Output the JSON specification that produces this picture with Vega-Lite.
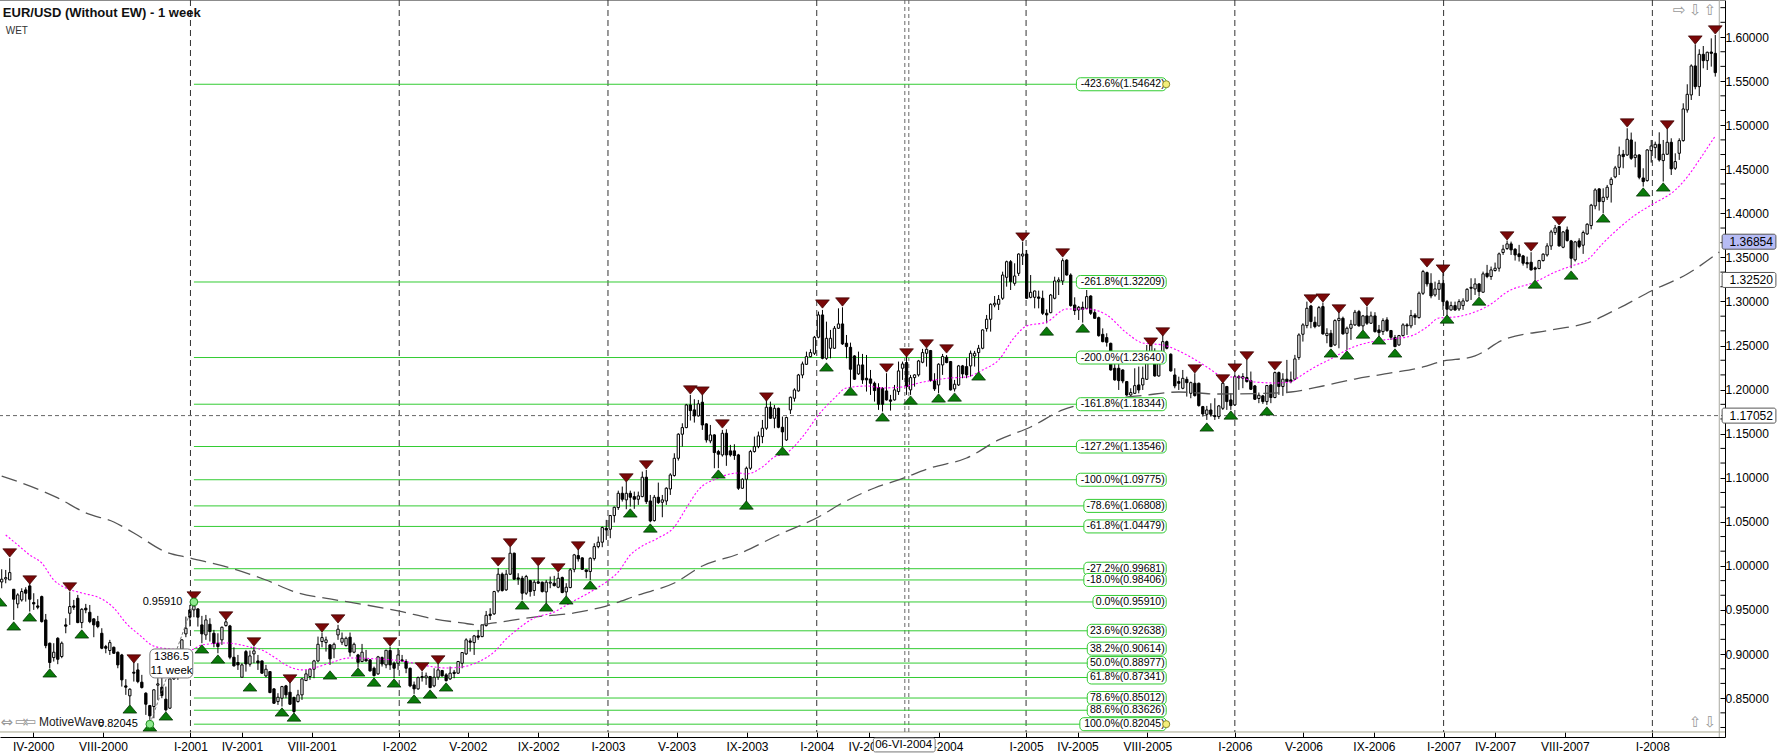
{"$schema":"https://vega.github.io/schema/vega-lite/v6.json","width":1725,"height":737,"autosize":{"type":"none"},"padding":{"left":0,"top":0,"right":52,"bottom":17},"background":"white","config":{"view":{"stroke":null},"font":"Liberation Sans","axis":{"grid":false}},
"datasets":{
"vlines":[{"d":"2001-01-01"},{"d":"2002-01-01"},{"d":"2003-01-01"},{"d":"2004-01-01"},{"d":"2005-01-01"},{"d":"2006-01-01"},{"d":"2007-01-01"},{"d":"2008-01-01"}],
"fibs":[{"t":"-423.6%(1.54642)","p":1.54642,"s":"2001-01-07","a":"2005-03-30","b":"2005-09-03"},{"t":"-261.8%(1.32209)","p":1.32209,"s":"2001-01-07","a":"2005-03-30","b":"2005-09-03"},{"t":"-200.0%(1.23640)","p":1.2364,"s":"2001-01-07","a":"2005-03-30","b":"2005-09-03"},{"t":"-161.8%(1.18344)","p":1.18344,"s":"2001-01-07","a":"2005-03-30","b":"2005-09-03"},{"t":"-127.2%(1.13546)","p":1.13546,"s":"2001-01-07","a":"2005-03-30","b":"2005-09-03"},{"t":"-100.0%(1.09775)","p":1.09775,"s":"2001-01-07","a":"2005-03-30","b":"2005-09-03"},{"t":"-78.6%(1.06808)","p":1.06808,"s":"2001-01-07","a":"2005-04-12","b":"2005-09-03"},{"t":"-61.8%(1.04479)","p":1.04479,"s":"2001-01-07","a":"2005-04-12","b":"2005-09-03"},{"t":"-27.2%(0.99681)","p":0.99681,"s":"2001-01-07","a":"2005-04-12","b":"2005-09-03"},{"t":"-18.0%(0.98406)","p":0.98406,"s":"2001-01-07","a":"2005-04-12","b":"2005-09-03"},{"t":"0.0%(0.95910)","p":0.9591,"s":"2001-01-07","a":"2005-04-28","b":"2005-09-03"},{"t":"23.6%(0.92638)","p":0.92638,"s":"2001-01-07","a":"2005-04-18","b":"2005-09-03"},{"t":"38.2%(0.90614)","p":0.90614,"s":"2001-01-07","a":"2005-04-18","b":"2005-09-03"},{"t":"50.0%(0.88977)","p":0.88977,"s":"2001-01-07","a":"2005-04-18","b":"2005-09-03"},{"t":"61.8%(0.87341)","p":0.87341,"s":"2001-01-07","a":"2005-04-18","b":"2005-09-03"},{"t":"78.6%(0.85012)","p":0.85012,"s":"2001-01-07","a":"2005-04-18","b":"2005-09-03"},{"t":"88.6%(0.83626)","p":0.83626,"s":"2001-01-07","a":"2005-04-18","b":"2005-09-03"},{"t":"100.0%(0.82045)","p":0.82045,"s":"2001-01-07","a":"2005-04-05","b":"2005-09-03"}],
"pink":[{"d":"2000-02-13","p":1.0351},{"d":"2000-03-05","p":1.0238},{"d":"2000-03-26","p":1.0124},{"d":"2000-04-16","p":1.0033},{"d":"2000-05-07","p":0.984},{"d":"2000-05-28","p":0.975},{"d":"2000-06-25","p":0.9693},{"d":"2000-07-30","p":0.9625},{"d":"2000-08-20","p":0.9523},{"d":"2000-09-10","p":0.9353},{"d":"2000-10-08","p":0.9194},{"d":"2000-10-22","p":0.9114},{"d":"2000-11-12","p":0.9069},{"d":"2000-12-31","p":0.9046},{"d":"2001-01-21","p":0.9103},{"d":"2001-03-04","p":0.9126},{"d":"2001-04-15","p":0.908},{"d":"2001-05-06","p":0.9046},{"d":"2001-05-27","p":0.8967},{"d":"2001-06-17","p":0.8876},{"d":"2001-07-15","p":0.882},{"d":"2001-08-05","p":0.8842},{"d":"2001-09-02","p":0.8899},{"d":"2001-10-07","p":0.8956},{"d":"2001-11-25","p":0.8944},{"d":"2002-01-06","p":0.8922},{"d":"2002-02-10","p":0.8876},{"d":"2002-03-24","p":0.8842},{"d":"2002-04-21","p":0.8854},{"d":"2002-05-19","p":0.891},{"d":"2002-06-16","p":0.9024},{"d":"2002-07-07","p":0.9171},{"d":"2002-07-21","p":0.925},{"d":"2002-08-25","p":0.9409},{"d":"2002-09-29","p":0.9477},{"d":"2002-10-27","p":0.958},{"d":"2002-12-01","p":0.9704},{"d":"2002-12-29","p":0.9818},{"d":"2003-01-19","p":0.9931},{"d":"2003-02-09","p":1.0124},{"d":"2003-03-02","p":1.0226},{"d":"2003-03-30","p":1.0317},{"d":"2003-04-27","p":1.0442},{"d":"2003-05-18","p":1.0657},{"d":"2003-06-08","p":1.0861},{"d":"2003-07-13","p":1.0998},{"d":"2003-08-17","p":1.1054},{"d":"2003-08-31","p":1.1043},{"d":"2003-09-28","p":1.1122},{"d":"2003-10-19","p":1.1236},{"d":"2003-11-09","p":1.1281},{"d":"2003-12-07","p":1.1463},{"d":"2004-01-04","p":1.1712},{"d":"2004-02-01","p":1.1905},{"d":"2004-02-22","p":1.2019},{"d":"2004-03-28","p":1.2041},{"d":"2004-04-25","p":1.2019},{"d":"2004-05-30","p":1.203},{"d":"2004-06-27","p":1.2075},{"d":"2004-07-25","p":1.2109},{"d":"2004-08-22","p":1.2132},{"d":"2004-09-19","p":1.2143},{"d":"2004-10-17","p":1.2223},{"d":"2004-11-14","p":1.2336},{"d":"2004-12-12","p":1.2597},{"d":"2005-01-02","p":1.2722},{"d":"2005-02-06","p":1.2767},{"d":"2005-03-13","p":1.2915},{"d":"2005-04-17","p":1.2915},{"d":"2005-05-22","p":1.2847},{"d":"2005-06-26","p":1.2642},{"d":"2005-07-24","p":1.2529},{"d":"2005-08-28","p":1.2506},{"d":"2005-10-09","p":1.2393},{"d":"2005-11-13","p":1.2257},{"d":"2005-12-04","p":1.2166},{"d":"2005-12-11","p":1.2143},{"d":"2006-01-08","p":1.2143},{"d":"2006-02-05","p":1.2087},{"d":"2006-03-12","p":1.2075},{"d":"2006-04-09","p":1.2087},{"d":"2006-04-23","p":1.2143},{"d":"2006-05-21","p":1.2257},{"d":"2006-06-18","p":1.2348},{"d":"2006-07-23","p":1.2472},{"d":"2006-08-27","p":1.254},{"d":"2006-10-01","p":1.2574},{"d":"2006-11-05","p":1.2608},{"d":"2006-12-03","p":1.2711},{"d":"2006-12-24","p":1.2813},{"d":"2007-01-21","p":1.2824},{"d":"2007-02-25","p":1.2881},{"d":"2007-03-25","p":1.2971},{"d":"2007-04-22","p":1.3108},{"d":"2007-06-10","p":1.3221},{"d":"2007-07-15","p":1.3334},{"d":"2007-08-12","p":1.3402},{"d":"2007-09-09","p":1.3471},{"d":"2007-10-07","p":1.3663},{"d":"2007-11-04","p":1.3834},{"d":"2007-12-02","p":1.3981},{"d":"2007-12-30","p":1.4094},{"d":"2008-02-10","p":1.4265},{"d":"2008-03-02","p":1.4412},{"d":"2008-03-23","p":1.4605},{"d":"2008-04-13","p":1.4809},{"d":"2008-04-20","p":1.4877}],
"gray":[{"d":"2000-02-06","p":1.102},{"d":"2000-05-14","p":1.0771},{"d":"2000-07-02","p":1.0601},{"d":"2000-08-20","p":1.0498},{"d":"2000-09-24","p":1.0374},{"d":"2000-11-19","p":1.0158},{"d":"2000-12-31","p":1.009},{"d":"2001-03-18","p":0.9965},{"d":"2001-05-13","p":0.984},{"d":"2001-07-08","p":0.9693},{"d":"2001-09-02","p":0.9625},{"d":"2001-11-04","p":0.9557},{"d":"2001-12-30","p":0.9489},{"d":"2002-03-03","p":0.9398},{"d":"2002-04-21","p":0.9353},{"d":"2002-05-19","p":0.933},{"d":"2002-06-16","p":0.9353},{"d":"2002-08-25","p":0.942},{"d":"2002-11-03","p":0.9466},{"d":"2002-12-29","p":0.9545},{"d":"2003-02-23","p":0.967},{"d":"2003-04-27","p":0.9806},{"d":"2003-06-15","p":0.9999},{"d":"2003-08-17","p":1.0135},{"d":"2003-10-26","p":1.0351},{"d":"2004-01-04","p":1.0555},{"d":"2004-02-15","p":1.0714},{"d":"2004-04-11","p":1.0884},{"d":"2004-05-23","p":1.0975},{"d":"2004-07-18","p":1.1111},{"d":"2004-09-19","p":1.1224},{"d":"2004-11-14","p":1.1429},{"d":"2005-01-09","p":1.1576},{"d":"2005-03-06","p":1.1769},{"d":"2005-04-03","p":1.1826},{"d":"2005-07-31","p":1.1939},{"d":"2005-09-25","p":1.1973},{"d":"2005-12-04","p":1.195},{"d":"2006-03-19","p":1.1962},{"d":"2006-04-09","p":1.1973},{"d":"2006-06-04","p":1.2041},{"d":"2006-07-30","p":1.212},{"d":"2006-10-01","p":1.2189},{"d":"2006-11-26","p":1.2257},{"d":"2006-12-24","p":1.2313},{"d":"2007-02-25","p":1.2382},{"d":"2007-04-15","p":1.2563},{"d":"2007-07-08","p":1.2676},{"d":"2007-09-09","p":1.2756},{"d":"2007-11-04","p":1.2926},{"d":"2007-12-30","p":1.3119},{"d":"2008-03-02","p":1.3312},{"d":"2008-04-27","p":1.3561}],
"tops":[{"d":"2000-02-20","p":1.0147},{"d":"2000-03-26","p":0.984},{"d":"2000-06-04","p":0.9761},{"d":"2000-09-24","p":0.8944},{"d":"2001-01-07","p":0.9659},{"d":"2001-03-04","p":0.9432},{"d":"2001-04-22","p":0.9137},{"d":"2001-06-24","p":0.8717},{"d":"2001-08-19","p":0.9296},{"d":"2001-09-16","p":0.9398},{"d":"2001-12-16","p":0.9137},{"d":"2002-02-10","p":0.8854},{"d":"2002-03-10","p":0.8933},{"d":"2002-06-23","p":1.0045},{"d":"2002-07-14","p":1.026},{"d":"2002-09-01","p":1.0045},{"d":"2002-10-06","p":0.9977},{"d":"2002-11-10","p":1.0226},{"d":"2003-02-02","p":1.0998},{"d":"2003-03-09","p":1.1145},{"d":"2003-05-25","p":1.1996},{"d":"2003-06-15","p":1.1984},{"d":"2003-07-20","p":1.161},{"d":"2003-10-05","p":1.1916},{"d":"2004-01-11","p":1.2971},{"d":"2004-02-15","p":1.2994},{"d":"2004-05-02","p":1.2245},{"d":"2004-06-06","p":1.2416},{"d":"2004-07-11","p":1.2518},{"d":"2004-08-15","p":1.2461},{"d":"2004-12-26","p":1.3731},{"d":"2005-03-06","p":1.355},{"d":"2005-08-07","p":1.254},{"d":"2005-08-28","p":1.2654},{"d":"2005-10-23","p":1.2234},{"d":"2005-12-11","p":1.2121},{"d":"2006-01-01","p":1.2245},{"d":"2006-01-22","p":1.2382},{"d":"2006-03-12","p":1.2268},{"d":"2006-05-14","p":1.3028},{"d":"2006-06-04","p":1.3039},{"d":"2006-07-02","p":1.2915},{"d":"2006-08-20","p":1.2994},{"d":"2006-12-03","p":1.3437},{"d":"2006-12-31","p":1.3368},{"d":"2007-04-22","p":1.3743},{"d":"2007-06-03","p":1.3618},{"d":"2007-07-22","p":1.3913},{"d":"2007-11-18","p":1.5025},{"d":"2008-01-27","p":1.5002},{"d":"2008-03-16","p":1.5966},{"d":"2008-04-20","p":1.608}],
"bottoms":[{"d":"2000-02-03","p":0.9591},{"d":"2000-02-27","p":0.9319},{"d":"2000-03-26","p":0.9421},{"d":"2000-04-30","p":0.8786},{"d":"2000-06-25","p":0.9228},{"d":"2000-09-17","p":0.8377},{"d":"2000-10-22","p":0.8173},{"d":"2000-11-19","p":0.8298},{"d":"2001-01-21","p":0.9058},{"d":"2001-02-18","p":0.8944},{"d":"2001-04-15","p":0.8627},{"d":"2001-06-10","p":0.8343},{"d":"2001-07-01","p":0.8286},{"d":"2001-09-02","p":0.8763},{"d":"2001-10-21","p":0.8797},{"d":"2001-11-18","p":0.8683},{"d":"2001-12-23","p":0.8672},{"d":"2002-01-27","p":0.8491},{"d":"2002-02-24","p":0.8547},{"d":"2002-03-24","p":0.8627},{"d":"2002-08-04","p":0.9557},{"d":"2002-09-15","p":0.9534},{"d":"2002-10-20","p":0.9614},{"d":"2002-12-01","p":0.9784},{"d":"2003-02-09","p":1.0601},{"d":"2003-03-16","p":1.043},{"d":"2003-07-13","p":1.1043},{"d":"2003-08-31","p":1.0691},{"d":"2003-11-02","p":1.1304},{"d":"2004-01-18","p":1.2257},{"d":"2004-02-29","p":1.1984},{"d":"2004-04-25","p":1.169},{"d":"2004-06-13","p":1.1882},{"d":"2004-08-01","p":1.1905},{"d":"2004-08-29","p":1.1916},{"d":"2004-10-10","p":1.2155},{"d":"2005-02-06","p":1.2665},{"d":"2005-04-10","p":1.2699},{"d":"2005-11-13","p":1.1576},{"d":"2005-12-25","p":1.1712},{"d":"2006-02-26","p":1.1758},{"d":"2006-06-18","p":1.2416},{"d":"2006-07-16","p":1.2393},{"d":"2006-08-13","p":1.2631},{"d":"2006-09-10","p":1.2563},{"d":"2006-10-08","p":1.2416},{"d":"2007-01-07","p":1.2801},{"d":"2007-03-04","p":1.3005},{"d":"2007-06-10","p":1.3198},{"d":"2007-08-12","p":1.33},{"d":"2007-10-07","p":1.3947},{"d":"2007-12-16","p":1.4242},{"d":"2008-01-20","p":1.4299}],
"candles":[
{"d":"2000-02-06","o":0.9818,"h":0.9962,"l":0.9746,"c":0.9849},{"d":"2000-02-13","o":0.9852,"h":0.9954,"l":0.9803,"c":0.9867},{"d":"2000-02-20","o":0.9841,"h":1.0087,"l":0.9841,"c":0.9924},{"d":"2000-02-27","o":0.9735,"h":0.9735,"l":0.9387,"c":0.9622},{"d":"2000-03-05","o":0.9569,"h":0.969,"l":0.952,"c":0.9671},{"d":"2000-03-12","o":0.9614,"h":0.9746,"l":0.9595,"c":0.9709},{"d":"2000-03-19","o":0.9728,"h":0.9758,"l":0.9595,"c":0.969},{"d":"2000-03-26","o":0.9773,"h":0.9803,"l":0.9482,"c":0.9622},{"d":"2000-04-02","o":0.9584,"h":0.969,"l":0.9501,"c":0.9569},{"d":"2000-04-09","o":0.9546,"h":0.9622,"l":0.9508,"c":0.9531},{"d":"2000-04-16","o":0.9652,"h":0.9663,"l":0.9357,"c":0.9368},{"d":"2000-04-23","o":0.9387,"h":0.9455,"l":0.9066,"c":0.9096},{"d":"2000-04-30","o":0.9123,"h":0.913,"l":0.8839,"c":0.8904},{"d":"2000-05-07","o":0.896,"h":0.9123,"l":0.8915,"c":0.9021},{"d":"2000-05-14","o":0.9179,"h":0.9191,"l":0.8885,"c":0.8941},{"d":"2000-05-21","o":0.8972,"h":0.9142,"l":0.8953,"c":0.9123},{"d":"2000-05-28","o":0.9331,"h":0.9406,"l":0.9236,"c":0.9316},{"d":"2000-06-04","o":0.9463,"h":0.9709,"l":0.9331,"c":0.9539},{"d":"2000-06-11","o":0.9546,"h":0.9614,"l":0.9501,"c":0.9531},{"d":"2000-06-18","o":0.9633,"h":0.9671,"l":0.935,"c":0.9357},{"d":"2000-06-25","o":0.9357,"h":0.952,"l":0.9293,"c":0.9508},{"d":"2000-07-02","o":0.952,"h":0.9569,"l":0.9463,"c":0.9501},{"d":"2000-07-09","o":0.9474,"h":0.9557,"l":0.935,"c":0.9368},{"d":"2000-07-16","o":0.9399,"h":0.9406,"l":0.9191,"c":0.9331},{"d":"2000-07-23","o":0.9368,"h":0.9433,"l":0.9293,"c":0.9312},{"d":"2000-07-30","o":0.9236,"h":0.9293,"l":0.9055,"c":0.9066},{"d":"2000-08-06","o":0.9085,"h":0.9104,"l":0.9009,"c":0.9066},{"d":"2000-08-13","o":0.904,"h":0.9161,"l":0.899,"c":0.913},{"d":"2000-08-20","o":0.9077,"h":0.9085,"l":0.9002,"c":0.9009},{"d":"2000-08-27","o":0.9021,"h":0.9028,"l":0.8839,"c":0.8877},{"d":"2000-09-03","o":0.899,"h":0.9002,"l":0.8631,"c":0.8707},{"d":"2000-09-10","o":0.8639,"h":0.8715,"l":0.8537,"c":0.8624},{"d":"2000-09-17","o":0.8526,"h":0.8612,"l":0.8423,"c":0.8601},{"d":"2000-09-24","o":0.8794,"h":0.8915,"l":0.8688,"c":0.8783},{"d":"2000-10-01","o":0.882,"h":0.8896,"l":0.8669,"c":0.8688},{"d":"2000-10-08","o":0.8681,"h":0.8764,"l":0.8609,"c":0.862},{"d":"2000-10-15","o":0.8556,"h":0.8567,"l":0.831,"c":0.8431},{"d":"2000-10-22","o":0.8416,"h":0.8423,"l":0.8253,"c":0.8299},{"d":"2000-10-29","o":0.8405,"h":0.8601,"l":0.8272,"c":0.8594},{"d":"2000-11-05","o":0.8647,"h":0.8726,"l":0.848,"c":0.8662},{"d":"2000-11-12","o":0.8624,"h":0.8745,"l":0.8499,"c":0.8529},{"d":"2000-11-19","o":0.8488,"h":0.8631,"l":0.8348,"c":0.8367},{"d":"2000-11-26","o":0.8386,"h":0.8718,"l":0.8378,"c":0.8718},{"d":"2000-12-03","o":0.8718,"h":0.8877,"l":0.8707,"c":0.8839},{"d":"2000-12-10","o":0.882,"h":0.8915,"l":0.8707,"c":0.8896},{"d":"2000-12-17","o":0.9055,"h":0.9168,"l":0.899,"c":0.9161},{"d":"2000-12-24","o":0.9229,"h":0.9425,"l":0.9191,"c":0.9293},{"d":"2000-12-31","o":0.9501,"h":0.9557,"l":0.9312,"c":0.9418},
{"d":"2001-01-07","o":0.9501,"h":0.9595,"l":0.9418,"c":0.9546},{"d":"2001-01-14","o":0.9512,"h":0.952,"l":0.9312,"c":0.9418},{"d":"2001-01-21","o":0.9331,"h":0.9433,"l":0.9123,"c":0.9229},{"d":"2001-01-28","o":0.9217,"h":0.9444,"l":0.9161,"c":0.9387},{"d":"2001-02-04","o":0.9338,"h":0.9406,"l":0.9142,"c":0.9255},{"d":"2001-02-11","o":0.9236,"h":0.9274,"l":0.9077,"c":0.9123},{"d":"2001-02-18","o":0.9123,"h":0.9236,"l":0.9009,"c":0.9085},{"d":"2001-02-25","o":0.9161,"h":0.9312,"l":0.9104,"c":0.9304},{"d":"2001-03-04","o":0.9323,"h":0.9406,"l":0.9312,"c":0.9365},{"d":"2001-03-11","o":0.9319,"h":0.9331,"l":0.8941,"c":0.8964},{"d":"2001-03-18","o":0.8964,"h":0.9077,"l":0.8858,"c":0.8866},{"d":"2001-03-25","o":0.8904,"h":0.899,"l":0.882,"c":0.8877},{"d":"2001-04-01","o":0.8737,"h":0.8896,"l":0.8737,"c":0.8877},{"d":"2001-04-08","o":0.9028,"h":0.9047,"l":0.8801,"c":0.8888},{"d":"2001-04-15","o":0.8885,"h":0.904,"l":0.8858,"c":0.8979},{"d":"2001-04-22","o":0.9002,"h":0.9085,"l":0.8896,"c":0.9036},{"d":"2001-04-29","o":0.8922,"h":0.899,"l":0.882,"c":0.89},{"d":"2001-05-06","o":0.8922,"h":0.8926,"l":0.8775,"c":0.8783},{"d":"2001-05-13","o":0.8752,"h":0.8877,"l":0.8737,"c":0.8828},{"d":"2001-05-20","o":0.8801,"h":0.8801,"l":0.8556,"c":0.8563},{"d":"2001-05-27","o":0.8605,"h":0.8612,"l":0.8435,"c":0.8442},{"d":"2001-06-03","o":0.8461,"h":0.8556,"l":0.8423,"c":0.851},{"d":"2001-06-10","o":0.8499,"h":0.8639,"l":0.8405,"c":0.8631},{"d":"2001-06-17","o":0.8639,"h":0.865,"l":0.8499,"c":0.8537},{"d":"2001-06-24","o":0.8567,"h":0.8688,"l":0.8423,"c":0.8431},{"d":"2001-07-01","o":0.8507,"h":0.8518,"l":0.8329,"c":0.8348},{"d":"2001-07-08","o":0.8461,"h":0.8594,"l":0.845,"c":0.8537},{"d":"2001-07-15","o":0.8537,"h":0.8726,"l":0.848,"c":0.8718},{"d":"2001-07-22","o":0.8699,"h":0.882,"l":0.8696,"c":0.8775},{"d":"2001-07-29","o":0.8745,"h":0.8839,"l":0.8707,"c":0.8828},{"d":"2001-08-05","o":0.8828,"h":0.8934,"l":0.8726,"c":0.8922},{"d":"2001-08-12","o":0.8922,"h":0.9198,"l":0.8907,"c":0.9111},{"d":"2001-08-19","o":0.9142,"h":0.9244,"l":0.9077,"c":0.9187},{"d":"2001-08-26","o":0.913,"h":0.9198,"l":0.9028,"c":0.9161},{"d":"2001-09-02","o":0.9104,"h":0.9111,"l":0.8877,"c":0.8945},{"d":"2001-09-09","o":0.9059,"h":0.913,"l":0.8953,"c":0.9111},{"d":"2001-09-16","o":0.9217,"h":0.9331,"l":0.9161,"c":0.9282},{"d":"2001-09-23","o":0.9134,"h":0.9244,"l":0.9104,"c":0.9179},{"d":"2001-09-30","o":0.9096,"h":0.9198,"l":0.9085,"c":0.9179},{"d":"2001-10-07","o":0.9191,"h":0.9244,"l":0.8972,"c":0.9021},{"d":"2001-10-14","o":0.9021,"h":0.913,"l":0.9009,"c":0.9111},{"d":"2001-10-21","o":0.899,"h":0.9002,"l":0.8847,"c":0.8907},{"d":"2001-10-28","o":0.8915,"h":0.9115,"l":0.8907,"c":0.9021},{"d":"2001-11-04","o":0.8941,"h":0.9047,"l":0.8915,"c":0.8922},{"d":"2001-11-11","o":0.8934,"h":0.8941,"l":0.8801,"c":0.8809},{"d":"2001-11-18","o":0.8839,"h":0.8858,"l":0.8745,"c":0.8756},{"d":"2001-11-25","o":0.8775,"h":0.8979,"l":0.8764,"c":0.8968},{"d":"2001-12-02","o":0.896,"h":0.8972,"l":0.8858,"c":0.8888},{"d":"2001-12-09","o":0.8877,"h":0.9047,"l":0.8839,"c":0.9043},{"d":"2001-12-16","o":0.904,"h":0.9085,"l":0.882,"c":0.8877},{"d":"2001-12-23","o":0.8896,"h":0.8915,"l":0.8726,"c":0.8839},{"d":"2001-12-30","o":0.8896,"h":0.9066,"l":0.882,"c":0.899},
{"d":"2002-01-06","o":0.8934,"h":0.899,"l":0.8915,"c":0.8922},{"d":"2002-01-13","o":0.8915,"h":0.8941,"l":0.8783,"c":0.8839},{"d":"2002-01-20","o":0.8839,"h":0.8847,"l":0.8624,"c":0.8639},{"d":"2002-01-27","o":0.865,"h":0.8688,"l":0.8548,"c":0.8605},{"d":"2002-02-03","o":0.8605,"h":0.8745,"l":0.8594,"c":0.8733},{"d":"2002-02-10","o":0.8745,"h":0.8801,"l":0.8688,"c":0.8733},{"d":"2002-02-17","o":0.873,"h":0.879,"l":0.865,"c":0.8752},{"d":"2002-02-24","o":0.8745,"h":0.8752,"l":0.8612,"c":0.862},{"d":"2002-03-03","o":0.8639,"h":0.8839,"l":0.8624,"c":0.8737},{"d":"2002-03-10","o":0.8737,"h":0.8896,"l":0.8707,"c":0.882},{"d":"2002-03-17","o":0.8813,"h":0.882,"l":0.8745,"c":0.8752},{"d":"2002-03-24","o":0.8764,"h":0.8783,"l":0.8688,"c":0.8699},{"d":"2002-03-31","o":0.8718,"h":0.8858,"l":0.8707,"c":0.8783},{"d":"2002-04-07","o":0.8794,"h":0.882,"l":0.8726,"c":0.8779},{"d":"2002-04-14","o":0.8783,"h":0.8922,"l":0.8775,"c":0.8915},{"d":"2002-04-21","o":0.8896,"h":0.9021,"l":0.8839,"c":0.9017},{"d":"2002-04-28","o":0.9002,"h":0.9179,"l":0.899,"c":0.9161},{"d":"2002-05-05","o":0.9149,"h":0.9179,"l":0.9028,"c":0.9134},{"d":"2002-05-12","o":0.913,"h":0.9217,"l":0.899,"c":0.9206},{"d":"2002-05-19","o":0.9206,"h":0.9274,"l":0.9161,"c":0.9191},{"d":"2002-05-26","o":0.9198,"h":0.9338,"l":0.9191,"c":0.9331},{"d":"2002-06-02","o":0.9323,"h":0.9489,"l":0.9312,"c":0.944},{"d":"2002-06-09","o":0.9452,"h":0.952,"l":0.9387,"c":0.9437},{"d":"2002-06-16","o":0.9456,"h":0.9717,"l":0.9444,"c":0.9709},{"d":"2002-06-23","o":0.9717,"h":0.9974,"l":0.9698,"c":0.9906},{"d":"2002-06-30","o":0.9906,"h":0.9925,"l":0.9709,"c":0.972},{"d":"2002-07-07","o":0.9728,"h":0.9955,"l":0.9717,"c":0.9906},{"d":"2002-07-14","o":0.9906,"h":1.0219,"l":0.9898,"c":1.0144},{"d":"2002-07-21","o":1.0144,"h":1.0151,"l":0.9841,"c":0.9849},{"d":"2002-07-28","o":0.9864,"h":0.9917,"l":0.9785,"c":0.9849},{"d":"2002-08-04","o":0.986,"h":0.9887,"l":0.9615,"c":0.969},{"d":"2002-08-11","o":0.969,"h":0.9898,"l":0.9671,"c":0.9879},{"d":"2002-08-18","o":0.9834,"h":0.9841,"l":0.9652,"c":0.9709},{"d":"2002-08-25","o":0.972,"h":0.9841,"l":0.966,"c":0.9815},{"d":"2002-09-01","o":0.9819,"h":1.0,"l":0.9796,"c":0.9804},{"d":"2002-09-08","o":0.9815,"h":0.9822,"l":0.9698,"c":0.9709},{"d":"2002-09-15","o":0.9705,"h":0.9841,"l":0.9577,"c":0.9815},{"d":"2002-09-22","o":0.9804,"h":0.9879,"l":0.9747,"c":0.9815},{"d":"2002-09-29","o":0.9804,"h":0.9887,"l":0.9766,"c":0.9777},{"d":"2002-10-06","o":0.9758,"h":0.9925,"l":0.9747,"c":0.986},{"d":"2002-10-13","o":0.9868,"h":0.9879,"l":0.969,"c":0.9698},{"d":"2002-10-20","o":0.9705,"h":0.9804,"l":0.9652,"c":0.9758},{"d":"2002-10-27","o":0.9754,"h":0.9974,"l":0.9747,"c":0.9955},{"d":"2002-11-03","o":0.9962,"h":1.0136,"l":0.9928,"c":1.0125},{"d":"2002-11-10","o":1.0117,"h":1.02,"l":1.0049,"c":1.008},{"d":"2002-11-17","o":1.0091,"h":1.0098,"l":0.9955,"c":0.9962},{"d":"2002-11-24","o":0.9955,"h":0.9955,"l":0.986,"c":0.9936},{"d":"2002-12-01","o":0.9936,"h":1.0098,"l":0.9841,"c":1.0087},{"d":"2002-12-08","o":1.0083,"h":1.0257,"l":1.0061,"c":1.0219},{"d":"2002-12-15","o":1.0219,"h":1.0333,"l":1.02,"c":1.0269},{"d":"2002-12-22","o":1.0269,"h":1.0446,"l":1.0212,"c":1.0435},{"d":"2002-12-29","o":1.0427,"h":1.0522,"l":1.0295,"c":1.0408},
{"d":"2003-01-05","o":1.0416,"h":1.0578,"l":1.0314,"c":1.0571},{"d":"2003-01-12","o":1.0571,"h":1.0673,"l":1.0492,"c":1.0665},{"d":"2003-01-19","o":1.0662,"h":1.0854,"l":1.0635,"c":1.0824},{"d":"2003-01-26","o":1.0824,"h":1.09,"l":1.073,"c":1.0756},{"d":"2003-02-02","o":1.0749,"h":1.0956,"l":1.0643,"c":1.0824},{"d":"2003-02-09","o":1.0824,"h":1.0854,"l":1.0673,"c":1.0779},{"d":"2003-02-16","o":1.0786,"h":1.0843,"l":1.0647,"c":1.0756},{"d":"2003-02-23","o":1.0756,"h":1.0843,"l":1.0692,"c":1.0794},{"d":"2003-03-02","o":1.0786,"h":1.107,"l":1.0779,"c":1.1006},{"d":"2003-03-09","o":1.1006,"h":1.1089,"l":1.0703,"c":1.073},{"d":"2003-03-16","o":1.0737,"h":1.0805,"l":1.0495,"c":1.051},{"d":"2003-03-23","o":1.0514,"h":1.0805,"l":1.0503,"c":1.0779},{"d":"2003-03-30","o":1.0779,"h":1.0945,"l":1.0703,"c":1.0718},{"d":"2003-04-06","o":1.0722,"h":1.0805,"l":1.0552,"c":1.0749},{"d":"2003-04-13","o":1.0737,"h":1.0892,"l":1.0692,"c":1.0881},{"d":"2003-04-20","o":1.0873,"h":1.1051,"l":1.0805,"c":1.1032},{"d":"2003-04-27","o":1.1025,"h":1.1278,"l":1.1013,"c":1.1221},{"d":"2003-05-04","o":1.1221,"h":1.1505,"l":1.1195,"c":1.1494},{"d":"2003-05-11","o":1.1494,"h":1.1618,"l":1.1354,"c":1.1569},{"d":"2003-05-18","o":1.1569,"h":1.1838,"l":1.1562,"c":1.1826},{"d":"2003-05-25","o":1.1826,"h":1.194,"l":1.1649,"c":1.1762},{"d":"2003-06-01","o":1.177,"h":1.1891,"l":1.1626,"c":1.1702},{"d":"2003-06-08","o":1.1702,"h":1.1883,"l":1.1694,"c":1.1838},{"d":"2003-06-15","o":1.1857,"h":1.194,"l":1.1543,"c":1.1599},{"d":"2003-06-22","o":1.1611,"h":1.1618,"l":1.1399,"c":1.1429},{"d":"2003-06-29","o":1.1418,"h":1.1599,"l":1.1392,"c":1.1486},{"d":"2003-07-06","o":1.1486,"h":1.1494,"l":1.1108,"c":1.1286},{"d":"2003-07-13","o":1.1297,"h":1.1316,"l":1.1108,"c":1.1267},{"d":"2003-07-20","o":1.1259,"h":1.1543,"l":1.124,"c":1.1505},{"d":"2003-07-27","o":1.1505,"h":1.155,"l":1.1135,"c":1.1259},{"d":"2003-08-03","o":1.1305,"h":1.1373,"l":1.124,"c":1.1259},{"d":"2003-08-10","o":1.1305,"h":1.138,"l":1.1203,"c":1.1252},{"d":"2003-08-17","o":1.1259,"h":1.1271,"l":1.0862,"c":1.0881},{"d":"2003-08-24","o":1.0881,"h":1.0995,"l":1.0874,"c":1.0983},{"d":"2003-08-31","o":1.0983,"h":1.1127,"l":1.0711,"c":1.1108},{"d":"2003-09-07","o":1.1108,"h":1.1316,"l":1.1089,"c":1.1297},{"d":"2003-09-14","o":1.1297,"h":1.1467,"l":1.1286,"c":1.1354},{"d":"2003-09-21","o":1.1354,"h":1.1524,"l":1.1335,"c":1.1475},{"d":"2003-09-28","o":1.1467,"h":1.1656,"l":1.1392,"c":1.1562},{"d":"2003-10-05","o":1.1562,"h":1.1883,"l":1.1543,"c":1.18},{"d":"2003-10-12","o":1.18,"h":1.1864,"l":1.1668,"c":1.1675},{"d":"2003-10-19","o":1.1675,"h":1.1826,"l":1.1562,"c":1.1788},{"d":"2003-10-26","o":1.1788,"h":1.1796,"l":1.1562,"c":1.1573},{"d":"2003-11-02","o":1.1573,"h":1.1694,"l":1.1354,"c":1.152},{"d":"2003-11-09","o":1.1429,"h":1.1694,"l":1.1418,"c":1.1683},{"d":"2003-11-16","o":1.177,"h":1.1921,"l":1.1724,"c":1.1913},{"d":"2003-11-23","o":1.1902,"h":1.2015,"l":1.1864,"c":1.1996},{"d":"2003-11-30","o":1.1985,"h":1.2178,"l":1.1977,"c":1.2166},{"d":"2003-12-07","o":1.2166,"h":1.2318,"l":1.2129,"c":1.2291},{"d":"2003-12-14","o":1.2287,"h":1.2431,"l":1.228,"c":1.2374},{"d":"2003-12-21","o":1.2374,"h":1.2458,"l":1.2367,"c":1.242},{"d":"2003-12-28","o":1.2412,"h":1.2609,"l":1.2393,"c":1.2594},
{"d":"2004-01-04","o":1.2594,"h":1.2885,"l":1.2582,"c":1.2847},{"d":"2004-01-11","o":1.2847,"h":1.2904,"l":1.2344,"c":1.2355},{"d":"2004-01-18","o":1.2355,"h":1.2771,"l":1.2337,"c":1.2582},{"d":"2004-01-25","o":1.2469,"h":1.2677,"l":1.2355,"c":1.2582},{"d":"2004-02-01","o":1.2469,"h":1.2722,"l":1.2461,"c":1.2696},{"d":"2004-02-08","o":1.2696,"h":1.2922,"l":1.2688,"c":1.2745},{"d":"2004-02-15","o":1.2745,"h":1.2934,"l":1.2507,"c":1.2518},{"d":"2004-02-22","o":1.2526,"h":1.262,"l":1.2355,"c":1.2488},{"d":"2004-02-29","o":1.248,"h":1.2533,"l":1.2027,"c":1.2231},{"d":"2004-03-07","o":1.2382,"h":1.239,"l":1.211,"c":1.2118},{"d":"2004-03-14","o":1.2178,"h":1.2431,"l":1.2167,"c":1.228},{"d":"2004-03-21","o":1.228,"h":1.2405,"l":1.2065,"c":1.211},{"d":"2004-03-28","o":1.2129,"h":1.2393,"l":1.1978,"c":1.211},{"d":"2004-04-04","o":1.2121,"h":1.2223,"l":1.194,"c":1.2072},{"d":"2004-04-11","o":1.2072,"h":1.2091,"l":1.1864,"c":1.1989},{"d":"2004-04-18","o":1.2023,"h":1.2072,"l":1.177,"c":1.1834},{"d":"2004-04-25","o":1.2015,"h":1.2027,"l":1.1751,"c":1.1834},{"d":"2004-05-02","o":1.1985,"h":1.2186,"l":1.1876,"c":1.1883},{"d":"2004-05-09","o":1.1883,"h":1.194,"l":1.1762,"c":1.1868},{"d":"2004-05-16","o":1.1883,"h":1.2053,"l":1.1876,"c":1.1997},{"d":"2004-05-23","o":1.1978,"h":1.2318,"l":1.194,"c":1.2212},{"d":"2004-05-30","o":1.2242,"h":1.2318,"l":1.211,"c":1.2291},{"d":"2004-06-06","o":1.2307,"h":1.2393,"l":1.194,"c":1.2034},{"d":"2004-06-13","o":1.1997,"h":1.2167,"l":1.194,"c":1.2136},{"d":"2004-06-20","o":1.2136,"h":1.2174,"l":1.2034,"c":1.2167},{"d":"2004-06-27","o":1.2167,"h":1.2337,"l":1.2148,"c":1.2325},{"d":"2004-07-04","o":1.231,"h":1.2462,"l":1.2299,"c":1.242},{"d":"2004-07-11","o":1.2412,"h":1.2469,"l":1.2261,"c":1.2458},{"d":"2004-07-18","o":1.2443,"h":1.245,"l":1.2091,"c":1.2102},{"d":"2004-07-25","o":1.2099,"h":1.2186,"l":1.1985,"c":1.2008},{"d":"2004-08-01","o":1.2053,"h":1.2299,"l":1.1959,"c":1.2288},{"d":"2004-08-08","o":1.228,"h":1.2405,"l":1.2167,"c":1.2375},{"d":"2004-08-15","o":1.2367,"h":1.2393,"l":1.2299,"c":1.2307},{"d":"2004-08-22","o":1.2318,"h":1.2325,"l":1.1989,"c":1.1997},{"d":"2004-08-29","o":1.2008,"h":1.211,"l":1.1978,"c":1.2061},{"d":"2004-09-05","o":1.2053,"h":1.228,"l":1.2042,"c":1.2269},{"d":"2004-09-12","o":1.2269,"h":1.228,"l":1.2129,"c":1.2178},{"d":"2004-09-19","o":1.2261,"h":1.2356,"l":1.2129,"c":1.2167},{"d":"2004-09-26","o":1.2269,"h":1.2443,"l":1.2148,"c":1.2412},{"d":"2004-10-03","o":1.2382,"h":1.2439,"l":1.2261,"c":1.2412},{"d":"2004-10-10","o":1.242,"h":1.2507,"l":1.2167,"c":1.2469},{"d":"2004-10-17","o":1.2469,"h":1.2685,"l":1.2458,"c":1.2677},{"d":"2004-10-24","o":1.2692,"h":1.2847,"l":1.2658,"c":1.2798},{"d":"2004-10-31","o":1.2798,"h":1.2979,"l":1.2658,"c":1.2968},{"d":"2004-11-07","o":1.296,"h":1.3062,"l":1.2934,"c":1.2979},{"d":"2004-11-14","o":1.2968,"h":1.3073,"l":1.2903,"c":1.3024},{"d":"2004-11-21","o":1.3036,"h":1.3338,"l":1.3017,"c":1.33},{"d":"2004-11-28","o":1.3274,"h":1.3463,"l":1.3168,"c":1.3451},{"d":"2004-12-05","o":1.3451,"h":1.347,"l":1.313,"c":1.3225},{"d":"2004-12-12","o":1.3206,"h":1.3433,"l":1.3179,"c":1.3289},{"d":"2004-12-19","o":1.3319,"h":1.3546,"l":1.3289,"c":1.3538},{"d":"2004-12-26","o":1.3516,"h":1.3678,"l":1.3414,"c":1.3538},
{"d":"2005-01-02","o":1.3538,"h":1.3584,"l":1.3028,"c":1.3036},{"d":"2005-01-09","o":1.3047,"h":1.33,"l":1.3036,"c":1.3104},{"d":"2005-01-16","o":1.3047,"h":1.3123,"l":1.2922,"c":1.3119},{"d":"2005-01-23","o":1.3051,"h":1.3123,"l":1.2922,"c":1.3036},{"d":"2005-01-30","o":1.3036,"h":1.3123,"l":1.2847,"c":1.2866},{"d":"2005-02-06","o":1.2866,"h":1.2911,"l":1.2752,"c":1.2847},{"d":"2005-02-13","o":1.2873,"h":1.3085,"l":1.2866,"c":1.3073},{"d":"2005-02-20","o":1.3036,"h":1.3281,"l":1.3024,"c":1.3232},{"d":"2005-02-27","o":1.3228,"h":1.3274,"l":1.3073,"c":1.3244},{"d":"2005-03-06","o":1.3232,"h":1.3489,"l":1.3187,"c":1.3463},{"d":"2005-03-13","o":1.347,"h":1.3478,"l":1.3293,"c":1.33},{"d":"2005-03-20","o":1.33,"h":1.3319,"l":1.2941,"c":1.2953},{"d":"2005-03-27","o":1.296,"h":1.3047,"l":1.2847,"c":1.2896},{"d":"2005-04-03","o":1.2903,"h":1.2949,"l":1.279,"c":1.2934},{"d":"2005-04-10","o":1.2934,"h":1.2998,"l":1.276,"c":1.2911},{"d":"2005-04-17","o":1.2922,"h":1.313,"l":1.2911,"c":1.3055},{"d":"2005-04-24","o":1.3062,"h":1.307,"l":1.2847,"c":1.2866},{"d":"2005-05-01","o":1.2873,"h":1.2911,"l":1.2805,"c":1.2809},{"d":"2005-05-08","o":1.2816,"h":1.2828,"l":1.2601,"c":1.2612},{"d":"2005-05-15","o":1.2627,"h":1.2695,"l":1.2537,"c":1.2544},{"d":"2005-05-22","o":1.259,"h":1.2639,"l":1.2488,"c":1.2537},{"d":"2005-05-29","o":1.2525,"h":1.2533,"l":1.2215,"c":1.2223},{"d":"2005-06-05","o":1.2242,"h":1.2355,"l":1.2102,"c":1.211},{"d":"2005-06-12","o":1.2242,"h":1.2344,"l":1.1996,"c":1.2102},{"d":"2005-06-19","o":1.2223,"h":1.2231,"l":1.2072,"c":1.2098},{"d":"2005-06-26","o":1.2091,"h":1.2098,"l":1.1928,"c":1.1939},{"d":"2005-07-03","o":1.1939,"h":1.2015,"l":1.1928,"c":1.1966},{"d":"2005-07-10","o":1.1958,"h":1.2242,"l":1.1951,"c":1.2045},{"d":"2005-07-17","o":1.2053,"h":1.2261,"l":1.1958,"c":1.1996},{"d":"2005-07-24","o":1.2053,"h":1.2261,"l":1.1996,"c":1.2128},{"d":"2005-07-31","o":1.2117,"h":1.2506,"l":1.211,"c":1.2355},{"d":"2005-08-07","o":1.2374,"h":1.2563,"l":1.2355,"c":1.2506},{"d":"2005-08-14","o":1.2367,"h":1.2469,"l":1.2147,"c":1.2155},{"d":"2005-08-21","o":1.2155,"h":1.2412,"l":1.2147,"c":1.2367},{"d":"2005-08-28","o":1.2355,"h":1.262,"l":1.2344,"c":1.2544},{"d":"2005-09-04","o":1.2544,"h":1.2556,"l":1.2457,"c":1.2469},{"d":"2005-09-11","o":1.2401,"h":1.2412,"l":1.2204,"c":1.2212},{"d":"2005-09-18","o":1.2166,"h":1.2242,"l":1.2015,"c":1.2042},{"d":"2005-09-25","o":1.2091,"h":1.2147,"l":1.1996,"c":1.2072},{"d":"2005-10-02","o":1.2015,"h":1.2223,"l":1.2004,"c":1.2128},{"d":"2005-10-09","o":1.2117,"h":1.2147,"l":1.1921,"c":1.2079},{"d":"2005-10-16","o":1.1958,"h":1.2091,"l":1.1902,"c":1.2079},{"d":"2005-10-23","o":1.2072,"h":1.2185,"l":1.1921,"c":1.1932},{"d":"2005-10-30","o":1.2072,"h":1.2079,"l":1.1807,"c":1.1819},{"d":"2005-11-06","o":1.1807,"h":1.1815,"l":1.1694,"c":1.1724},{"d":"2005-11-13","o":1.172,"h":1.1815,"l":1.1656,"c":1.1769},{"d":"2005-11-20","o":1.1769,"h":1.1845,"l":1.1694,"c":1.172},{"d":"2005-11-27","o":1.1705,"h":1.1902,"l":1.1656,"c":1.1694},{"d":"2005-12-04","o":1.1694,"h":1.1826,"l":1.1667,"c":1.1815},{"d":"2005-12-11","o":1.1788,"h":1.211,"l":1.1769,"c":1.2072},{"d":"2005-12-18","o":1.2035,"h":1.2042,"l":1.177,"c":1.1864},{"d":"2005-12-25","o":1.1883,"h":1.1959,"l":1.177,"c":1.1819},
{"d":"2006-01-01","o":1.1827,"h":1.2167,"l":1.1815,"c":1.2148},{"d":"2006-01-08","o":1.2148,"h":1.2167,"l":1.1997,"c":1.2133},{"d":"2006-01-15","o":1.2129,"h":1.2186,"l":1.2016,"c":1.2148},{"d":"2006-01-22","o":1.2137,"h":1.2337,"l":1.208,"c":1.2091},{"d":"2006-01-29","o":1.2103,"h":1.2205,"l":1.1997,"c":1.2004},{"d":"2006-02-05","o":1.2042,"h":1.2053,"l":1.1883,"c":1.1891},{"d":"2006-02-12","o":1.1899,"h":1.1967,"l":1.1846,"c":1.1936},{"d":"2006-02-19","o":1.1929,"h":1.194,"l":1.1838,"c":1.1864},{"d":"2006-02-26","o":1.1864,"h":1.2053,"l":1.1827,"c":1.2046},{"d":"2006-03-05","o":1.2053,"h":1.2061,"l":1.1846,"c":1.191},{"d":"2006-03-12","o":1.191,"h":1.2205,"l":1.1902,"c":1.2193},{"d":"2006-03-19","o":1.2193,"h":1.2205,"l":1.194,"c":1.2035},{"d":"2006-03-26","o":1.2035,"h":1.2186,"l":1.1929,"c":1.2118},{"d":"2006-04-02","o":1.2118,"h":1.2337,"l":1.1959,"c":1.2091},{"d":"2006-04-09","o":1.211,"h":1.2205,"l":1.2072,"c":1.2091},{"d":"2006-04-16","o":1.2118,"h":1.2394,"l":1.211,"c":1.2348},{"d":"2006-04-23","o":1.2363,"h":1.2639,"l":1.2337,"c":1.262},{"d":"2006-04-30","o":1.2628,"h":1.2753,"l":1.2545,"c":1.2734},{"d":"2006-05-07","o":1.2726,"h":1.2998,"l":1.2696,"c":1.2923},{"d":"2006-05-14","o":1.2949,"h":1.2961,"l":1.2696,"c":1.2772},{"d":"2006-05-21","o":1.2764,"h":1.2828,"l":1.2696,"c":1.2715},{"d":"2006-05-28","o":1.2723,"h":1.2949,"l":1.2715,"c":1.293},{"d":"2006-06-04","o":1.2942,"h":1.2987,"l":1.2624,"c":1.2632},{"d":"2006-06-11","o":1.2613,"h":1.2696,"l":1.2526,"c":1.2639},{"d":"2006-06-18","o":1.2639,"h":1.2677,"l":1.2481,"c":1.2488},{"d":"2006-06-25","o":1.2507,"h":1.2798,"l":1.2496,"c":1.2783},{"d":"2006-07-02","o":1.2783,"h":1.2885,"l":1.2469,"c":1.2809},{"d":"2006-07-09","o":1.2809,"h":1.2828,"l":1.2624,"c":1.2632},{"d":"2006-07-16","o":1.2639,"h":1.2715,"l":1.245,"c":1.2696},{"d":"2006-07-23","o":1.2696,"h":1.2791,"l":1.2564,"c":1.2741},{"d":"2006-07-30","o":1.2734,"h":1.2904,"l":1.2723,"c":1.2878},{"d":"2006-08-06","o":1.2885,"h":1.2904,"l":1.2715,"c":1.2723},{"d":"2006-08-13","o":1.2723,"h":1.2847,"l":1.2677,"c":1.2836},{"d":"2006-08-20","o":1.2836,"h":1.2942,"l":1.2734,"c":1.2753},{"d":"2006-08-27","o":1.2753,"h":1.2885,"l":1.2745,"c":1.2836},{"d":"2006-09-03","o":1.2836,"h":1.2878,"l":1.2647,"c":1.2658},{"d":"2006-09-10","o":1.2677,"h":1.2734,"l":1.2583,"c":1.2647},{"d":"2006-09-17","o":1.2658,"h":1.2809,"l":1.262,"c":1.2783},{"d":"2006-09-24","o":1.2791,"h":1.2821,"l":1.2655,"c":1.267},{"d":"2006-10-01","o":1.267,"h":1.2677,"l":1.2564,"c":1.2594},{"d":"2006-10-08","o":1.259,"h":1.262,"l":1.2481,"c":1.2488},{"d":"2006-10-15","o":1.2507,"h":1.262,"l":1.2496,"c":1.2613},{"d":"2006-10-22","o":1.2613,"h":1.2753,"l":1.2602,"c":1.2734},{"d":"2006-10-29","o":1.2734,"h":1.2753,"l":1.262,"c":1.2723},{"d":"2006-11-05","o":1.2723,"h":1.2904,"l":1.2696,"c":1.284},{"d":"2006-11-12","o":1.2844,"h":1.2866,"l":1.2734,"c":1.2821},{"d":"2006-11-19","o":1.2817,"h":1.3112,"l":1.2806,"c":1.3093},{"d":"2006-11-26","o":1.3093,"h":1.3358,"l":1.3074,"c":1.3339},{"d":"2006-12-03","o":1.3327,"h":1.3339,"l":1.3169,"c":1.3199},{"d":"2006-12-10","o":1.3206,"h":1.332,"l":1.3036,"c":1.3063},{"d":"2006-12-17","o":1.3074,"h":1.3225,"l":1.3055,"c":1.3142},{"d":"2006-12-24","o":1.3138,"h":1.3244,"l":1.3017,"c":1.3206},{"d":"2006-12-31","o":1.3206,"h":1.332,"l":1.2904,"c":1.2998},
{"d":"2007-01-07","o":1.2998,"h":1.3017,"l":1.2809,"c":1.2912},{"d":"2007-01-14","o":1.2904,"h":1.2998,"l":1.2896,"c":1.2953},{"d":"2007-01-21","o":1.2953,"h":1.2998,"l":1.2893,"c":1.2904},{"d":"2007-01-28","o":1.2915,"h":1.3025,"l":1.2893,"c":1.2998},{"d":"2007-02-04","o":1.2953,"h":1.3036,"l":1.2904,"c":1.3006},{"d":"2007-02-11","o":1.3006,"h":1.315,"l":1.2998,"c":1.3138},{"d":"2007-02-18","o":1.3161,"h":1.3263,"l":1.3017,"c":1.315},{"d":"2007-02-25","o":1.3142,"h":1.3263,"l":1.3074,"c":1.3199},{"d":"2007-03-04","o":1.3199,"h":1.3207,"l":1.3056,"c":1.3112},{"d":"2007-03-11","o":1.3105,"h":1.3339,"l":1.3101,"c":1.3313},{"d":"2007-03-18","o":1.332,"h":1.3415,"l":1.3264,"c":1.3283},{"d":"2007-03-25","o":1.3283,"h":1.3396,"l":1.3245,"c":1.3358},{"d":"2007-04-01","o":1.3351,"h":1.3441,"l":1.3339,"c":1.3377},{"d":"2007-04-08","o":1.3377,"h":1.3555,"l":1.3339,"c":1.354},{"d":"2007-04-15","o":1.3555,"h":1.3642,"l":1.3528,"c":1.3593},{"d":"2007-04-22","o":1.36,"h":1.3691,"l":1.3585,"c":1.3653},{"d":"2007-04-29","o":1.3653,"h":1.3679,"l":1.3528,"c":1.3585},{"d":"2007-05-06","o":1.3593,"h":1.3604,"l":1.3464,"c":1.3528},{"d":"2007-05-13","o":1.354,"h":1.3642,"l":1.3453,"c":1.3509},{"d":"2007-05-20","o":1.3517,"h":1.3528,"l":1.3407,"c":1.3434},{"d":"2007-05-27","o":1.3441,"h":1.3509,"l":1.3377,"c":1.3426},{"d":"2007-06-03","o":1.3445,"h":1.3559,"l":1.3351,"c":1.3358},{"d":"2007-06-10","o":1.3381,"h":1.3396,"l":1.3245,"c":1.3366},{"d":"2007-06-17","o":1.3373,"h":1.3472,"l":1.3366,"c":1.3464},{"d":"2007-06-24","o":1.3464,"h":1.3547,"l":1.3453,"c":1.3536},{"d":"2007-07-01","o":1.3528,"h":1.3661,"l":1.3509,"c":1.363},{"d":"2007-07-08","o":1.363,"h":1.3812,"l":1.3585,"c":1.3789},{"d":"2007-07-15","o":1.3782,"h":1.3868,"l":1.3755,"c":1.3834},{"d":"2007-07-22","o":1.385,"h":1.3857,"l":1.3623,"c":1.363},{"d":"2007-07-29","o":1.3615,"h":1.38,"l":1.3604,"c":1.3789},{"d":"2007-08-05","o":1.3812,"h":1.385,"l":1.3679,"c":1.3691},{"d":"2007-08-12","o":1.3687,"h":1.3698,"l":1.3377,"c":1.349},{"d":"2007-08-19","o":1.3472,"h":1.3687,"l":1.3453,"c":1.3676},{"d":"2007-08-26","o":1.3687,"h":1.3717,"l":1.3604,"c":1.3623},{"d":"2007-09-02","o":1.3638,"h":1.3804,"l":1.354,"c":1.3782},{"d":"2007-09-09","o":1.3766,"h":1.3887,"l":1.3755,"c":1.3876},{"d":"2007-09-16","o":1.3861,"h":1.4107,"l":1.3819,"c":1.4092},{"d":"2007-09-23","o":1.4084,"h":1.4284,"l":1.4046,"c":1.4265},{"d":"2007-09-30","o":1.4277,"h":1.4284,"l":1.4031,"c":1.4133},{"d":"2007-10-07","o":1.4133,"h":1.4284,"l":1.4001,"c":1.4182},{"d":"2007-10-14","o":1.4182,"h":1.4322,"l":1.4152,"c":1.4296},{"d":"2007-10-21","o":1.4326,"h":1.4409,"l":1.4122,"c":1.4386},{"d":"2007-10-28","o":1.4413,"h":1.4538,"l":1.4398,"c":1.4515},{"d":"2007-11-04","o":1.4522,"h":1.4757,"l":1.4435,"c":1.4662},{"d":"2007-11-11","o":1.467,"h":1.4719,"l":1.4511,"c":1.4643},{"d":"2007-11-18","o":1.4662,"h":1.4965,"l":1.4651,"c":1.484},{"d":"2007-11-25","o":1.4832,"h":1.4916,"l":1.4606,"c":1.4624},{"d":"2007-12-02","o":1.4632,"h":1.4813,"l":1.4522,"c":1.4662},{"d":"2007-12-09","o":1.4662,"h":1.467,"l":1.4386,"c":1.4409},{"d":"2007-12-16","o":1.4401,"h":1.4511,"l":1.4303,"c":1.436},{"d":"2007-12-23","o":1.4371,"h":1.4727,"l":1.436,"c":1.4719},{"d":"2007-12-30","o":1.4711,"h":1.4832,"l":1.4575,"c":1.4764},
{"d":"2008-01-06","o":1.4745,"h":1.4813,"l":1.4624,"c":1.4783},{"d":"2008-01-13","o":1.4783,"h":1.4919,"l":1.4587,"c":1.4606},{"d":"2008-01-20","o":1.4598,"h":1.4832,"l":1.436,"c":1.467},{"d":"2008-01-27","o":1.467,"h":1.4965,"l":1.4662,"c":1.4806},{"d":"2008-02-03","o":1.4806,"h":1.4851,"l":1.4435,"c":1.4504},{"d":"2008-02-10","o":1.4511,"h":1.4681,"l":1.4492,"c":1.4587},{"d":"2008-02-17","o":1.4681,"h":1.4851,"l":1.4606,"c":1.4825},{"d":"2008-02-24","o":1.4825,"h":1.5248,"l":1.4813,"c":1.5184},{"d":"2008-03-02","o":1.5173,"h":1.5464,"l":1.5142,"c":1.535},{"d":"2008-03-09","o":1.5343,"h":1.569,"l":1.5286,"c":1.5672},{"d":"2008-03-16","o":1.5672,"h":1.5917,"l":1.5407,"c":1.5437},{"d":"2008-03-23","o":1.5437,"h":1.5861,"l":1.5331,"c":1.5804},{"d":"2008-03-30","o":1.5804,"h":1.5898,"l":1.5645,"c":1.5732},{"d":"2008-04-06","o":1.5732,"h":1.5834,"l":1.5626,"c":1.5827},{"d":"2008-04-13","o":1.583,"h":1.5985,"l":1.5664,"c":1.5815},{"d":"2008-04-20","o":1.5815,"h":1.6023,"l":1.5551,"c":1.5596}]},
"layer":[
{"data":{"values":[{"d":"2004-06-01"}]},"mark":{"type":"rule","opacity":0},"encoding":{"x":{"field":"d","type":"temporal","scale":{"type":"utc","domain":["2000-02-03","2008-05-07"],"padding":0},"axis":{"title":null,"orient":"bottom","values":[{"year":2000,"month":4,"date":1,"utc":true},{"year":2000,"month":8,"date":1,"utc":true},{"year":2001,"month":1,"date":1,"utc":true},{"year":2001,"month":4,"date":1,"utc":true},{"year":2001,"month":8,"date":1,"utc":true},{"year":2002,"month":1,"date":1,"utc":true},{"year":2002,"month":5,"date":1,"utc":true},{"year":2002,"month":9,"date":1,"utc":true},{"year":2003,"month":1,"date":1,"utc":true},{"year":2003,"month":5,"date":1,"utc":true},{"year":2003,"month":9,"date":1,"utc":true},{"year":2004,"month":1,"date":1,"utc":true},{"year":2004,"month":4,"date":1,"utc":true},{"year":2004,"month":8,"date":1,"utc":true},{"year":2005,"month":1,"date":1,"utc":true},{"year":2005,"month":4,"date":1,"utc":true},{"year":2005,"month":8,"date":1,"utc":true},{"year":2006,"month":1,"date":1,"utc":true},{"year":2006,"month":5,"date":1,"utc":true},{"year":2006,"month":9,"date":1,"utc":true},{"year":2007,"month":1,"date":1,"utc":true},{"year":2007,"month":4,"date":1,"utc":true},{"year":2007,"month":8,"date":1,"utc":true},{"year":2008,"month":1,"date":1,"utc":true}],"labelExpr":"['I','II','III','IV','V','VI','VII','VIII','IX','X','XI','XII'][utcmonth(datum.value)]+'-'+utcyear(datum.value)","tickSize":-5,"tickColor":"#000","domainColor":"#000","labelPadding":9,"labelFontSize":12,"labelColor":"#000","labelOverlap":false,"labelFlush":false,"labelFont":"Liberation Sans"}},"y":{"datum":1.2,"type":"quantitative","scale":{"domain":[0.8059,1.642],"zero":false,"nice":false,"padding":0},"axis":{"title":null,"orient":"right","values":[0.85,0.9,0.95,1,1.05,1.1,1.15,1.2,1.25,1.3,1.35,1.4,1.45,1.5,1.55,1.6],"format":".5f","tickSize":-5,"tickColor":"#000","domainColor":"#000","labelPadding":5,"labelFontSize":12,"labelColor":"#000","labelOverlap":false,"labelFlush":false,"labelFont":"Liberation Sans"}}}},
{"data":{"values":[{"v":1.642}]},"mark":{"type":"rule","color":"#666","strokeWidth":1.5},"encoding":{"y":{"field":"v","type":"quantitative"}}},
{"data":{"values":[{"v":0.8116}]},"mark":{"type":"rule","color":"#a8a890","strokeWidth":1},"encoding":{"y":{"field":"v","type":"quantitative"}}},
{"data":{"values":[{"d":"2008-04-27"}]},"mark":{"type":"rule","color":"#a8a8a0","strokeWidth":1},"encoding":{"x":{"field":"d","type":"temporal"}}},
{"data":{"values":[{"a":"2008-04-29","b":"2008-05-07","v":0.8167},{"a":"2008-04-29","b":"2008-05-07","v":0.8333},{"a":"2008-04-29","b":"2008-05-07","v":0.8667},{"a":"2008-04-29","b":"2008-05-07","v":0.8833},{"a":"2008-04-29","b":"2008-05-07","v":0.9167},{"a":"2008-04-29","b":"2008-05-07","v":0.9333},{"a":"2008-04-29","b":"2008-05-07","v":0.9667},{"a":"2008-04-29","b":"2008-05-07","v":0.9833},{"a":"2008-04-29","b":"2008-05-07","v":1.0167},{"a":"2008-04-29","b":"2008-05-07","v":1.0333},{"a":"2008-04-29","b":"2008-05-07","v":1.0667},{"a":"2008-04-29","b":"2008-05-07","v":1.0833},{"a":"2008-04-29","b":"2008-05-07","v":1.1167},{"a":"2008-04-29","b":"2008-05-07","v":1.1333},{"a":"2008-04-29","b":"2008-05-07","v":1.1667},{"a":"2008-04-29","b":"2008-05-07","v":1.1833},{"a":"2008-04-29","b":"2008-05-07","v":1.2167},{"a":"2008-04-29","b":"2008-05-07","v":1.2333},{"a":"2008-04-29","b":"2008-05-07","v":1.2667},{"a":"2008-04-29","b":"2008-05-07","v":1.2833},{"a":"2008-04-29","b":"2008-05-07","v":1.3167},{"a":"2008-04-29","b":"2008-05-07","v":1.3333},{"a":"2008-04-29","b":"2008-05-07","v":1.3667},{"a":"2008-04-29","b":"2008-05-07","v":1.3833},{"a":"2008-04-29","b":"2008-05-07","v":1.4167},{"a":"2008-04-29","b":"2008-05-07","v":1.4333},{"a":"2008-04-29","b":"2008-05-07","v":1.4667},{"a":"2008-04-29","b":"2008-05-07","v":1.4833},{"a":"2008-04-29","b":"2008-05-07","v":1.5167},{"a":"2008-04-29","b":"2008-05-07","v":1.5333},{"a":"2008-04-29","b":"2008-05-07","v":1.5667},{"a":"2008-04-29","b":"2008-05-07","v":1.5833},{"a":"2008-04-29","b":"2008-05-07","v":1.6167},{"a":"2008-04-29","b":"2008-05-07","v":1.6333}]},"mark":{"type":"rule","color":"#000","strokeWidth":1},"encoding":{"x":{"field":"a","type":"temporal"},"x2":{"field":"b"},"y":{"field":"v","type":"quantitative"}}},
{"data":{"name":"vlines"},"mark":{"type":"rule","color":"#333","strokeWidth":1,"strokeDash":[6,4]},"encoding":{"x":{"field":"d","type":"temporal"},"y":{"datum":1.642},"y2":{"datum":0.8116}}},
{"data":{"values":[{"d":"2004-06-03"},{"d":"2004-06-10"}]},"mark":{"type":"rule","color":"#666","strokeWidth":1,"strokeDash":[4,3]},"encoding":{"x":{"field":"d","type":"temporal"},"y":{"datum":1.642},"y2":{"datum":0.8116}}},
{"data":{"values":[{"v":1.17052}]},"mark":{"type":"rule","color":"#666","strokeWidth":1,"strokeDash":[4,3]},"encoding":{"y":{"field":"v","type":"quantitative"}}},
{"data":{"name":"fibs"},"mark":{"type":"rule","color":"#33cc33","strokeWidth":1},"encoding":{"x":{"field":"s","type":"temporal"},"x2":{"field":"b"},"y":{"field":"p","type":"quantitative"}}},
{"data":{"name":"candles"},"mark":{"type":"rule","color":"#000","strokeWidth":1},"encoding":{"x":{"field":"d","type":"temporal"},"y":{"field":"h","type":"quantitative"},"y2":{"field":"l"}}},
{"data":{"name":"candles"},"mark":{"type":"bar","size":2.3,"stroke":"#000","strokeWidth":1},"encoding":{"x":{"field":"d","type":"temporal"},"y":{"field":"o","type":"quantitative"},"y2":{"field":"c"},"fill":{"condition":{"test":"datum.c>=datum.o","value":"#ffffff"},"value":"#000000"}}},
{"data":{"name":"gray"},"mark":{"type":"line","color":"#555","strokeWidth":1.3,"strokeDash":[16,7],"interpolate":"monotone"},"encoding":{"x":{"field":"d","type":"temporal"},"y":{"field":"p","type":"quantitative"}}},
{"data":{"name":"pink"},"mark":{"type":"line","color":"#ff00ff","strokeWidth":1.1,"strokeDash":[2,2],"interpolate":"monotone"},"encoding":{"x":{"field":"d","type":"temporal"},"y":{"field":"p","type":"quantitative"}}},
{"data":{"name":"tops"},"mark":{"type":"point","shape":"M-1,-0.6L1,-0.6L0,0.6Z","size":190,"filled":true,"fill":"#7a0808","stroke":"#3a0000","strokeWidth":0.7,"opacity":1},"encoding":{"x":{"field":"d","type":"temporal"},"y":{"field":"p","type":"quantitative"}}},
{"data":{"name":"bottoms"},"mark":{"type":"point","shape":"M-1,0.6L1,0.6L0,-0.6Z","size":190,"filled":true,"fill":"#0a7a0a","stroke":"#002a00","strokeWidth":0.7,"opacity":1},"encoding":{"x":{"field":"d","type":"temporal"},"y":{"field":"p","type":"quantitative"}}},
{"data":{"name":"fibs"},"mark":{"type":"rect","height":13,"fill":"#ffffff","stroke":"#33cc33","strokeWidth":1,"cornerRadius":4},"encoding":{"x":{"field":"a","type":"temporal"},"x2":{"field":"b"},"y":{"field":"p","type":"quantitative"}}},
{"data":{"name":"fibs"},"mark":{"type":"text","align":"right","baseline":"middle","dx":-1.5,"fontSize":10.5,"color":"#000","font":"Liberation Sans"},"encoding":{"x":{"field":"b","type":"temporal"},"y":{"field":"p","type":"quantitative"},"text":{"field":"t"}}},
{"data":{"values":[{"a":"2000-10-22","p":0.82045,"b":"2001-01-07","q":0.9591}]},"mark":{"type":"rule","color":"#777","strokeWidth":1,"strokeDash":[3,2]},"encoding":{"x":{"field":"a","type":"temporal"},"x2":{"field":"b"},"y":{"field":"p","type":"quantitative"},"y2":{"field":"q"}}},
{"data":{"values":[{"d":"2001-01-07","p":0.9591},{"d":"2000-10-22","p":0.82045}]},"mark":{"type":"point","shape":"circle","size":60,"filled":true,"fill":"#8fe98f","stroke":"#1e8a1e","strokeWidth":1,"opacity":1},"encoding":{"x":{"field":"d","type":"temporal"},"y":{"field":"p","type":"quantitative"}}},
{"data":{"values":[{"d":"2005-09-03","p":1.54642},{"d":"2005-09-03","p":0.82045}]},"mark":{"type":"point","shape":"circle","size":50,"filled":true,"fill":"#f5ef7a","stroke":"#8a8a30","strokeWidth":1,"opacity":1},"encoding":{"x":{"field":"d","type":"temporal"},"y":{"field":"p","type":"quantitative"}}},
{"data":{"values":[{"a":"2000-10-22","b":"2001-01-05","lo":0.8729,"hi":0.9058}]},"mark":{"type":"rect","fill":"#ffffff","stroke":"#777","strokeWidth":1,"cornerRadius":5},"encoding":{"x":{"field":"a","type":"temporal"},"x2":{"field":"b"},"y":{"field":"lo","type":"quantitative"},"y2":{"field":"hi"}}},
{"data":{"values":[{"d":"2000-11-29","p":0.8967,"t":"1386.5"},{"d":"2000-11-29","p":0.8808,"t":"11 week"}]},"mark":{"type":"text","align":"center","baseline":"middle","fontSize":11.5,"color":"#000"},"encoding":{"x":{"field":"d","type":"temporal"},"y":{"field":"p","type":"quantitative"},"text":{"field":"t"}}},
{"data":{"values":[{"d":"2000-12-18","p":0.9591,"t":"0.95910"},{"d":"2000-10-01","p":0.82045,"t":"0.82045"}]},"mark":{"type":"text","align":"right","baseline":"middle","fontSize":11,"color":"#000"},"encoding":{"x":{"field":"d","type":"temporal"},"y":{"field":"p","type":"quantitative"},"text":{"field":"t"}}},
{"data":{"values":[{"d":"2000-04-11","p":0.8229,"t":"MotiveWave"}]},"mark":{"type":"text","align":"left","baseline":"middle","fontSize":12,"color":"#222"},"encoding":{"x":{"field":"d","type":"temporal"},"y":{"field":"p","type":"quantitative"},"text":{"field":"t"}}},
{"data":{"values":[{"d":"2000-02-08","p":1.6273,"t":"EUR/USD (Without EW) - 1 week"}]},"mark":{"type":"text","align":"left","baseline":"middle","fontSize":13,"fontWeight":"bold","color":"#111"},"encoding":{"x":{"field":"d","type":"temporal"},"y":{"field":"p","type":"quantitative"},"text":{"field":"t"}}},
{"data":{"values":[{"d":"2000-02-13","p":1.6068,"t":"WET"}]},"mark":{"type":"text","align":"left","baseline":"middle","fontSize":10,"color":"#333"},"encoding":{"x":{"field":"d","type":"temporal"},"y":{"field":"p","type":"quantitative"},"text":{"field":"t"}}},
{"data":{"values":[{"d":"2000-02-15","p":0.8229,"t":"⇔"},{"d":"2000-03-12","p":0.8229,"t":"⇨"},{"d":"2000-03-26","p":0.8229,"t":"⇦"},{"d":"2008-02-17","p":1.6307,"t":"⇨"},{"d":"2008-03-16","p":1.6307,"t":"⇩"},{"d":"2008-04-11","p":1.6307,"t":"⇧"},{"d":"2008-03-16","p":0.8229,"t":"⇧"},{"d":"2008-04-11","p":0.8229,"t":"⇩"}]},"mark":{"type":"text","align":"center","baseline":"middle","fontSize":15,"color":"#999","font":"DejaVu Sans"},"encoding":{"x":{"field":"d","type":"temporal"},"y":{"field":"p","type":"quantitative"},"text":{"field":"t"}}},
{"data":{"values":[{"a":"2008-05-02","b":"2008-08-04","p":1.3678,"f":"#b7bcf5"},{"a":"2008-05-02","b":"2008-08-04","p":1.3244,"f":"#ffffff"},{"a":"2008-05-02","b":"2008-08-04","p":1.1705,"f":"#ffffff"}]},"mark":{"type":"rect","height":15,"stroke":"#555","strokeWidth":1,"cornerRadius":2},"encoding":{"x":{"field":"a","type":"temporal"},"x2":{"field":"b"},"y":{"field":"p","type":"quantitative"},"fill":{"field":"f","type":"nominal","scale":null}}},
{"data":{"values":[{"d":"2008-05-15","p":1.3678,"t":"1.36854"},{"d":"2008-05-15","p":1.3244,"t":"1.32520"},{"d":"2008-05-15","p":1.1705,"t":"1.17052"}]},"mark":{"type":"text","align":"left","baseline":"middle","fontSize":12,"color":"#000"},"encoding":{"x":{"field":"d","type":"temporal"},"y":{"field":"p","type":"quantitative"},"text":{"field":"t"}}},
{"data":{"values":[{"a":"2004-04-09","b":"2004-07-26","p":0.7969,"t":"06-VI-2004","d":"2004-06-01"}]},"layer":[{"mark":{"type":"rect","height":14,"fill":"#ffffff","stroke":"#777","strokeWidth":1,"cornerRadius":2},"encoding":{"x":{"field":"a","type":"temporal"},"x2":{"field":"b"},"y":{"field":"p","type":"quantitative"}}},{"mark":{"type":"text","align":"center","baseline":"middle","fontSize":11.5,"color":"#000"},"encoding":{"x":{"field":"d","type":"temporal"},"y":{"field":"p","type":"quantitative"},"text":{"field":"t"}}}]}
]}
